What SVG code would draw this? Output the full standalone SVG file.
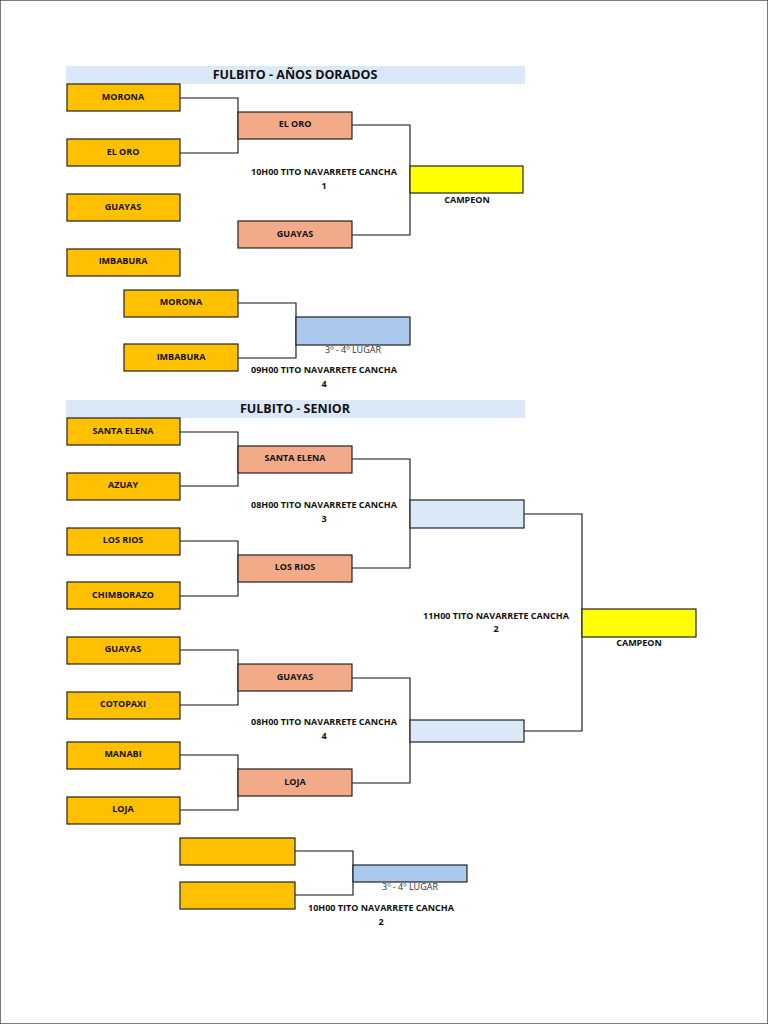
<svg xmlns="http://www.w3.org/2000/svg" width="768" height="1024" viewBox="0 0 768 1024">
<style>
rect{stroke:#222;stroke-width:1.2}
.t{fill:#FFC000}.w{fill:#F2AA88}.c{fill:#FFFF00}.b{fill:#A9C8EC}.lb{fill:#DAE8F7}
.bar{fill:#DAE8F7;stroke:none}
text{font-family:"Open Sans","Liberation Sans",sans-serif;font-weight:700;font-size:9px;fill:#111;text-anchor:middle;dominant-baseline:middle}
.h{font-size:12.5px}
.n{font-weight:400;fill:#333}
#conn path{fill:none;stroke:#111;stroke-width:1.1}
</style>
<rect width="768" height="1024" fill="#fff" stroke="none"/>
<g id="conn">
<path d="M180 98H238V153H180M352 125H410V235H352M238 303H296V358H238"/>
<path d="M180 432H238V486H180M180 541H238V596H180M180 650H238V705H180M180 755H238V810H180"/>
<path d="M352 459H410V568H352M352 678H410V783H352M524 514H582V731H524M295 851H353V895H295"/>
</g>
<g id="title1"><rect class="bar" x="66" y="66" width="459" height="18"/><text class="h" x="295" y="75.5">FULBITO - AÑOS DORADOS</text></g>
<g id="a1"><rect class="t" x="67" y="84" width="113" height="27"/><text x="123" y="98">MORONA</text></g>
<g id="a2"><rect class="t" x="67" y="139" width="113" height="27"/><text x="123" y="153">EL ORO</text></g>
<g id="a3"><rect class="t" x="67" y="194" width="113" height="27"/><text x="123" y="208">GUAYAS</text></g>
<g id="a4"><rect class="t" x="67" y="249" width="113" height="27"/><text x="123" y="262">IMBABURA</text></g>
<g id="a5"><rect class="w" x="238" y="112" width="114" height="27"/><text x="295" y="125">EL ORO</text></g>
<g id="a6"><rect class="w" x="238" y="221" width="114" height="27"/><text x="295" y="235">GUAYAS</text></g>
<g id="a7"><rect class="c" x="410" y="166" width="113" height="27"/><text x="467" y="201">CAMPEON</text></g>
<g id="a8"><text x="324" y="173">10H00 TITO NAVARRETE CANCHA</text><text x="324" y="187">1</text></g>
<g id="a9"><rect class="t" x="124" y="290" width="114" height="27"/><text x="181" y="303">MORONA</text></g>
<g id="a10"><rect class="t" x="124" y="344" width="114" height="27"/><text x="181" y="358">IMBABURA</text></g>
<g id="a11"><rect class="b" x="296" y="317" width="114" height="28"/><text class="n" x="353" y="351">3º - 4º LUGAR</text></g>
<g id="a12"><text x="324" y="371">09H00 TITO NAVARRETE CANCHA</text><text x="324" y="385">4</text></g>

<g id="title2"><rect class="bar" x="66" y="400" width="459" height="18"/><text class="h" x="295" y="409.5">FULBITO - SENIOR</text></g>
<g id="s1"><rect class="t" x="67" y="418" width="113" height="27"/><text x="123" y="432">SANTA ELENA</text></g>
<g id="s2"><rect class="t" x="67" y="473" width="113" height="27"/><text x="123" y="486">AZUAY</text></g>
<g id="s3"><rect class="t" x="67" y="528" width="113" height="27"/><text x="123" y="541">LOS RIOS</text></g>
<g id="s4"><rect class="t" x="67" y="582" width="113" height="27"/><text x="123" y="596">CHIMBORAZO</text></g>
<g id="s5"><rect class="t" x="67" y="637" width="113" height="27"/><text x="123" y="650">GUAYAS</text></g>
<g id="s6"><rect class="t" x="67" y="692" width="113" height="27"/><text x="123" y="705">COTOPAXI</text></g>
<g id="s7"><rect class="t" x="67" y="742" width="113" height="27"/><text x="123" y="755">MANABI</text></g>
<g id="s8"><rect class="t" x="67" y="797" width="113" height="27"/><text x="123" y="810">LOJA</text></g>
<g id="s9"><rect class="w" x="238" y="446" width="114" height="27"/><text x="295" y="459">SANTA ELENA</text></g>
<g id="s10"><rect class="w" x="238" y="555" width="114" height="27"/><text x="295" y="568">LOS RIOS</text></g>
<g id="s11"><rect class="w" x="238" y="664" width="114" height="27"/><text x="295" y="678">GUAYAS</text></g>
<g id="s12"><rect class="w" x="238" y="769" width="114" height="27"/><text x="295" y="783">LOJA</text></g>
<g id="s13"><rect class="lb" x="410" y="500" width="114" height="28"/></g>
<g id="s14"><rect class="lb" x="410" y="720" width="114" height="22"/></g>
<g id="s15"><text x="324" y="506">08H00 TITO NAVARRETE CANCHA</text><text x="324" y="520">3</text></g>
<g id="s16"><text x="324" y="723">08H00 TITO NAVARRETE CANCHA</text><text x="324" y="737">4</text></g>
<g id="s17"><rect class="c" x="582" y="609" width="114" height="28"/><text x="639" y="644">CAMPEON</text></g>
<g id="s18"><text x="496" y="617">11H00 TITO NAVARRETE CANCHA</text><text x="496" y="630">2</text></g>
<g id="s19"><rect class="t" x="180" y="838" width="115" height="27"/></g>
<g id="s20"><rect class="t" x="180" y="882" width="115" height="27"/></g>
<g id="s21"><rect class="b" x="353" y="865" width="114" height="17"/><text class="n" x="410" y="888">3º - 4º LUGAR</text></g>
<g id="s22"><text x="381" y="909">10H00 TITO NAVARRETE CANCHA</text><text x="381" y="923">2</text></g>
</svg>
